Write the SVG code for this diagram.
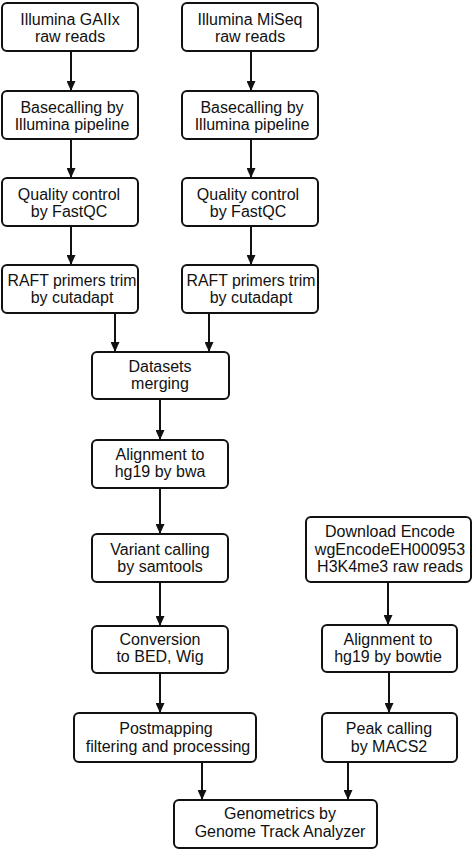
<svg xmlns="http://www.w3.org/2000/svg" width="474" height="850" viewBox="0 0 474 850">
<style>
.box{fill:#fff;stroke:#111;stroke-width:2}
.t{font-family:"Liberation Sans",Arial,sans-serif;font-size:16px;fill:#111;text-anchor:middle}
.c{stroke:#111;stroke-width:2;fill:none;marker-end:url(#ah)}
</style>
<defs>
<marker id="ah" markerUnits="userSpaceOnUse" markerWidth="10" markerHeight="9" refX="10" refY="4.5" orient="auto" viewBox="0 0 10 9">
<path d="M0,0 L10,4.5 L0,9 z" fill="#111"/>
</marker>
</defs>
<rect width="474" height="850" fill="#fff"/>
<g id="connectors">
<path class="c" d="M71,51 V91"/>
<path class="c" d="M251,51 V91"/>
<path class="c" d="M71,139 V178"/>
<path class="c" d="M251,139 V178"/>
<path class="c" d="M71,226 V265"/>
<path class="c" d="M251,226 V265"/>
<path class="c" d="M115,313 V352"/>
<path class="c" d="M209,313 V352"/>
<path class="c" d="M160,399 V440"/>
<path class="c" d="M160,488 V534"/>
<path class="c" d="M160,582 V626"/>
<path class="c" d="M160,673 V713"/>
<path class="c" d="M388,582 V625"/>
<path class="c" d="M389,672 V713"/>
<path class="c" d="M202,762 V800"/>
<path class="c" d="M348,762 V800"/>
</g>
<g id="n1"><rect class="box" x="2" y="3" width="136" height="48" rx="5"/><text class="t" x="70" y="25">Illumina GAIIx</text><text class="t" x="70" y="42">raw reads</text></g>
<g id="n2"><rect class="box" x="182" y="3" width="136" height="48" rx="5"/><text class="t" x="250" y="25">Illumina MiSeq</text><text class="t" x="250" y="42">raw reads</text></g>
<g id="n3"><rect class="box" x="2" y="91" width="136" height="48" rx="5"/><text class="t" x="72" y="113">Basecalling by</text><text class="t" x="72" y="130">Illumina pipeline</text></g>
<g id="n4"><rect class="box" x="182" y="91" width="136" height="48" rx="5"/><text class="t" x="252" y="113">Basecalling by</text><text class="t" x="252" y="130">Illumina pipeline</text></g>
<g id="n5"><rect class="box" x="2" y="178" width="136" height="48" rx="5"/><text class="t" x="69" y="200">Quality control</text><text class="t" x="69" y="217">by FastQC</text></g>
<g id="n6"><rect class="box" x="182" y="178" width="136" height="48" rx="5"/><text class="t" x="248" y="200">Quality control</text><text class="t" x="248" y="217">by FastQC</text></g>
<g id="n7"><rect class="box" x="2" y="265" width="136" height="48" rx="5"/><text class="t" x="72" y="286" textLength="129" lengthAdjust="spacingAndGlyphs">RAFT primers trim</text><text class="t" x="72" y="303">by cutadapt</text></g>
<g id="n8"><rect class="box" x="182" y="265" width="136" height="48" rx="5"/><text class="t" x="251" y="286" textLength="129" lengthAdjust="spacingAndGlyphs">RAFT primers trim</text><text class="t" x="251" y="303">by cutadapt</text></g>
<g id="n9"><rect class="box" x="92" y="352" width="137" height="47" rx="5"/><text class="t" x="160" y="372">Datasets</text><text class="t" x="160" y="389">merging</text></g>
<g id="n10"><rect class="box" x="92" y="440" width="136" height="48" rx="5"/><text class="t" x="160" y="460">Alignment to</text><text class="t" x="160" y="477">hg19 by bwa</text></g>
<g id="n11"><rect class="box" x="92" y="534" width="136" height="48" rx="5"/><text class="t" x="160" y="555">Variant calling</text><text class="t" x="160" y="572">by samtools</text></g>
<g id="n12"><rect class="box" x="306" y="517" width="165" height="65" rx="5"/><text class="t" x="390" y="537">Download Encode</text><text class="t" x="390" y="555">wgEncodeEH000953</text><text class="t" x="390" y="572">H3K4me3 raw reads</text></g>
<g id="n13"><rect class="box" x="92" y="626" width="136" height="47" rx="5"/><text class="t" x="160" y="645">Conversion</text><text class="t" x="160" y="662">to BED, Wig</text></g>
<g id="n14"><rect class="box" x="322" y="625" width="135" height="47" rx="5"/><text class="t" x="388" y="645">Alignment to</text><text class="t" x="388" y="662">hg19 by bowtie</text></g>
<g id="n15"><rect class="box" x="74" y="713" width="182" height="49" rx="5"/><text class="t" x="166" y="734">Postmapping</text><text class="t" x="168" y="752">filtering and processing</text></g>
<g id="n16"><rect class="box" x="322" y="713" width="135" height="49" rx="5"/><text class="t" x="389" y="734">Peak calling</text><text class="t" x="389" y="752">by MACS2</text></g>
<g id="n17"><rect class="box" x="174" y="800" width="203" height="48" rx="5"/><text class="t" x="280" y="819">Genometrics by</text><text class="t" x="280" y="837">Genome Track Analyzer</text></g>
</svg>
